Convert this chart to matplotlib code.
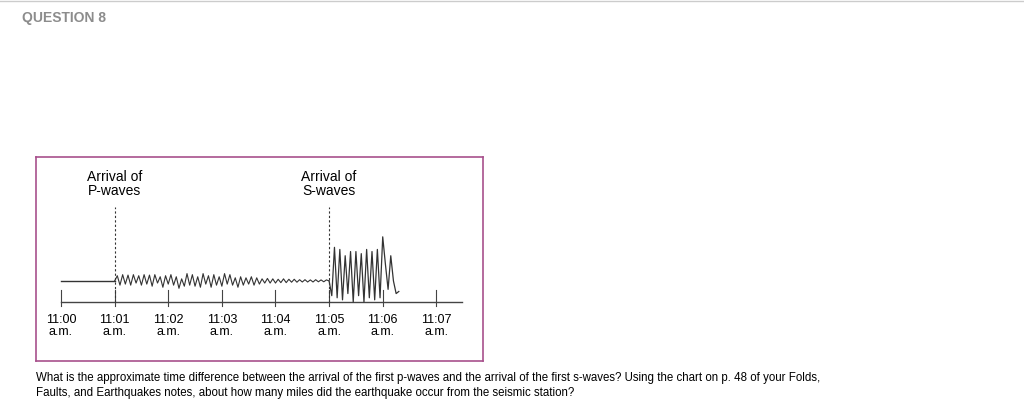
import matplotlib.pyplot as plt
import numpy as np

# time axis labels (minutes after 11:00)
tick_minutes = [0, 1, 2, 3, 4, 5, 6, 7]
tick_labels = ["11:00\na.m.", "11:01\na.m.", "11:02\na.m.", "11:03\na.m.",
               "11:04\na.m.", "11:05\na.m.", "11:06\na.m.", "11:07\na.m."]
p_arrival = 1.0
s_arrival = 5.0

# P-wave trace, offsets from baseline, one every 0.05 min from 1.0 to 5.0
p_offsets = [0.0, 0.25, -0.2, 0.3, -0.15, 0.28, -0.2, 0.3, -0.1, 0.25,
             -0.2, 0.3, -0.15, 0.28, -0.25, 0.3, -0.1, 0.2, -0.3, 0.25,
             -0.15, 0.3, -0.2, 0.2, -0.35, 0.1, -0.25, 0.35, -0.2, 0.3,
             -0.25, 0.2, -0.3, 0.35, -0.15, 0.25, -0.3, 0.3, -0.2, 0.2,
             -0.25, 0.35, -0.15, 0.3, -0.2, 0.15, -0.3, 0.2, -0.2, 0.15,
             -0.15, 0.2, -0.2, 0.15, -0.15, 0.1, -0.1, 0.12, -0.1, 0.1,
             -0.1, 0.08, -0.08, 0.1, -0.08, 0.08, -0.06, 0.08, -0.06, 0.06,
             -0.05, 0.06, -0.05, 0.05, -0.05, 0.06, -0.04, 0.05, -0.04, 0.05, 0.0]
# S-wave trace, absolute heights, one every 0.05 min from 5.0 to 6.3
s_heights = [1.0, 0.3, 2.6, 0.2, 2.5, 0.1, 2.2, 0.4, 2.4, 0.0,
             2.4, 0.3, 2.3, 0.0, 2.5, 0.2, 2.4, 0.1, 2.5, 0.2,
             3.1, 1.8, 0.6, 2.2, 1.0, 0.4, 0.5]

baseline = 1.0
fig = plt.figure(figsize=(10.24, 4.03), dpi=100)
plt.rcParams['font.family'] = ['Liberation Sans', 'DejaVu Sans']

fig.text(22 / 1024, 1 - 18 / 403, "QUESTION 8", color="#8c8c8c", fontsize=10,
         va="center", ha="left", fontweight="bold")
fig.add_artist(plt.Line2D([0, 1], [1 - 1 / 403] * 2, color="#cccccc", lw=1))

ax = fig.add_axes([36 / 1024, 42 / 403, 447 / 1024, 204 / 403])
ax.set_xlim(-0.466, 7.87)
ax.set_ylim(-2.81, 6.9)
ax.set_xticks([])
ax.set_yticks([])
for s in ax.spines.values():
    s.set_color("#a8508c")
    s.set_linewidth(1.2)

# time axis
ax.plot([0, 7.47], [0, 0], color="#444444", lw=1)
for m, lab in zip(tick_minutes, tick_labels):
    ax.plot([m, m], [-0.2, 0.55], color="#444444", lw=0.8)
    ax.text(m, -0.55, lab, ha="center", va="top", fontsize=9, linespacing=1.1)

# trace
ax.plot([0, p_arrival], [baseline, baseline], color="#333333", lw=1)
px = p_arrival + 0.05 * np.arange(len(p_offsets))
ax.plot(px, baseline + np.array(p_offsets), color="#333333", lw=0.8)
sx = s_arrival + 0.05 * np.arange(len(s_heights))
ax.plot(sx, s_heights, color="#333333", lw=0.9)

for t, lab in [(p_arrival, "Arrival of\nP-waves"), (s_arrival, "Arrival of\nS-waves")]:
    ax.plot([t, t], [0, 4.5], color="#333333", lw=0.8, ls=(0, (2, 2)))
    ax.text(t, 5.6, lab, ha="center", va="center", fontsize=10, linespacing=1.0)

fig.text(36 / 1024, 1 - 378 / 403,
         "What is the approximate time difference between the arrival of the first p-waves and the arrival of the first s-waves? Using the chart on p. 48 of your Folds,",
         fontsize=8.3, va="center", ha="left")
fig.text(36 / 1024, 1 - 393 / 403,
         "Faults, and Earthquakes notes, about how many miles did the earthquake occur from the seismic station?",
         fontsize=8.3, va="center", ha="left")

fig.savefig("out.png", dpi=100)
